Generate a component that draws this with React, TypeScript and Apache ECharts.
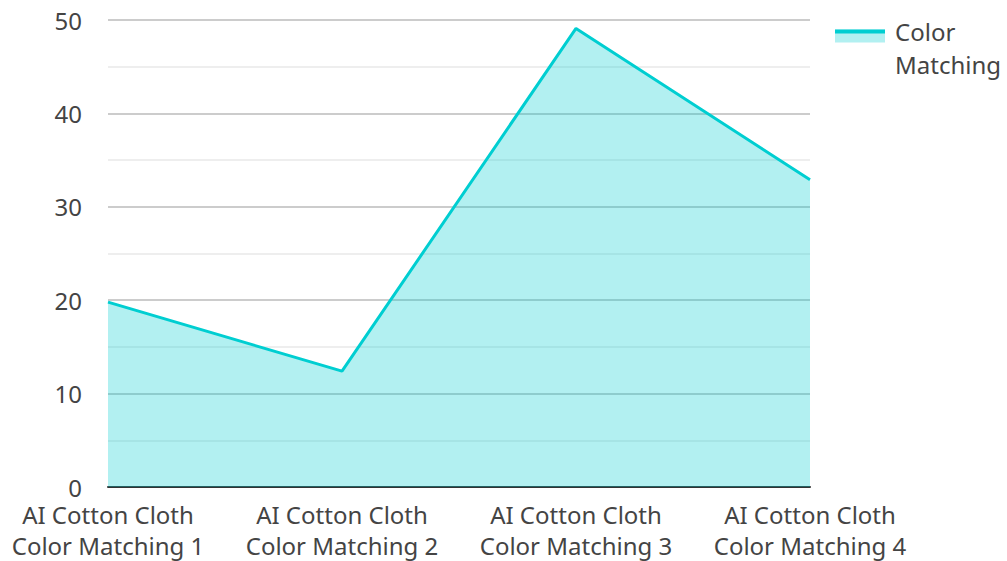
import React, { useEffect, useRef } from "react";
import * as echarts from "echarts";

const categories = [
  "AI Cotton Cloth\nColor Matching 1",
  "AI Cotton Cloth\nColor Matching 2",
  "AI Cotton Cloth\nColor Matching 3",
  "AI Cotton Cloth\nColor Matching 4",
];
const seriesName = "Color Matching";
const values = [19.8, 12.4, 49.1, 32.9];
const yTicks = { min: 0, max: 50, interval: 10 };

export default function App() {
  const ref = useRef<HTMLDivElement>(null);
  useEffect(() => {
    if (!ref.current) return;
    const chart = echarts.init(ref.current, undefined, { renderer: "svg" });
    chart.setOption({
      animation: false,
      textStyle: { fontFamily: "Noto Sans" },
      grid: {
        left: 108,
        right: 197,
        top: 20,
        bottom: 74,
        containLabel: false,
        outerBoundsMode: "none",
      },
      legend: {
        left: 835,
        top: 15,
        padding: 0,
        itemWidth: 55,
        itemHeight: 37,
        icon: "path://M0,0H50V13H0Z M54.99,36.99H55V37H54.99Z",
        itemStyle: { color: "#b2f0f1" },
        formatter: () => "Color\nMatching",
        textStyle: {
          fontSize: 24,
          color: "#444",
          fontFamily: "Noto Sans",
          lineHeight: 33,
        },
        data: [seriesName],
      },
      graphic: [
        {
          type: "rect",
          left: 835,
          top: 29.5,
          shape: { width: 50, height: 4 },
          style: { fill: "#00CED1" },
          z: 100,
        },
      ],
      xAxis: {
        type: "category",
        boundaryGap: false,
        data: categories,
        axisLine: { lineStyle: { color: "#333", width: 2 } },
        axisTick: { show: false },
        axisLabel: {
          interval: 0,
          fontSize: 24,
          color: "#444",
          lineHeight: 31,
          margin: 12,
          fontFamily: "Noto Sans",
        },
      },
      yAxis: {
        type: "value",
        min: yTicks.min,
        max: yTicks.max,
        interval: yTicks.interval,
        axisLine: { show: false },
        axisTick: { show: false },
        axisLabel: { fontSize: 24, color: "#444", margin: 26, fontFamily: "Noto Sans" },
        splitLine: { lineStyle: { color: "#ccc", width: 2 } },
        minorTick: { show: false, splitNumber: 2 },
        minorSplitLine: { show: true, lineStyle: { color: "#eee", width: 2 } },
      },
      series: [
        {
          name: seriesName,
          type: "line",
          data: values,
          symbol: "none",
          lineStyle: { color: "#00CED1", width: 3 },
          itemStyle: { color: "#00CED1" },
          areaStyle: { color: "#00CED1", opacity: 0.3 },
        },
      ],
    });
    return () => chart.dispose();
  }, []);
  return (
    <div
      ref={ref}
      style={{ position: "absolute", left: 0, top: 0, width: 1007, height: 561 }}
    />
  );
}
